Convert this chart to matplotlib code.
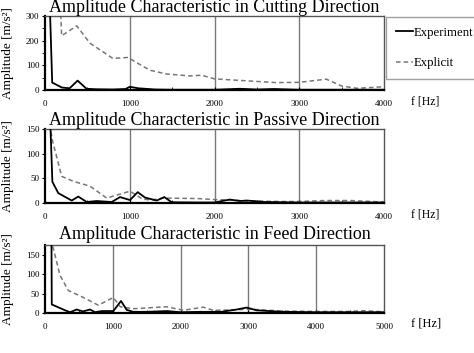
import matplotlib.pyplot as plt
from matplotlib.ticker import MultipleLocator

plt.rcParams['font.family'] = ['Liberation Serif', 'DejaVu Serif']

# cutting direction
cut_exp_f = [50, 85, 200, 290, 385, 490, 600, 800, 950, 1000, 1100, 1300, 1500, 2000, 2300, 2500, 2700, 3000, 3500, 4000]
cut_exp_a = [420, 30, 10, 7, 38, 5, 3, 2, 4, 13, 7, 2, 1, 1, 5, 2, 4, 1, 1, 1]
cut_expl_f = [170, 197, 375, 530, 800, 980, 1060, 1240, 1430, 1710, 1850, 2000, 2340, 2730, 3000, 3320, 3500, 3680, 4000]
cut_expl_a = [420, 220, 260, 190, 128, 132, 115, 80, 65, 57, 60, 45, 38, 30, 31, 44, 16, 7, 13]

# passive direction
pas_exp_f = [55, 87, 157, 315, 393, 492, 610, 787, 885, 1003, 1094, 1180, 1318, 1408, 1495, 1800, 2000, 2180, 2300, 2380, 2600, 3000, 3500, 4000]
pas_exp_a = [200, 43, 20, 5, 13, 2, 4, 2, 12, 6, 22, 11, 5, 12, 1.5, 1, 1, 7, 4, 5, 2, 1, 1, 1]
pas_expl_f = [55, 90, 197, 334, 531, 728, 1003, 1150, 1250, 1400, 1800, 2000, 2200, 2400, 2800, 3000, 3300, 3600, 4000]
pas_expl_a = [160, 125, 54, 44, 34, 10, 24, 8, 6, 10, 9, 7, 6, 4, 3, 3, 5, 5, 2]

# feed direction
feed_exp_f = [95, 100, 295, 370, 467, 560, 664, 738, 840, 1008, 1121, 1205, 1300, 1500, 1800, 2000, 2300, 2600, 2827, 2975, 3120, 3500, 4000, 4500, 5000]
feed_exp_a = [200, 22, 7, 2, 9, 4, 9, 2, 5, 5, 31, 8, 3, 3, 5, 2, 3, 3, 9, 14, 7, 3, 2, 2, 2]
feed_expl_f = [70, 123, 221, 344, 565, 786, 1008, 1110, 1303, 1794, 2040, 2335, 2480, 2800, 3000, 3500, 4000, 4500, 4700, 5000]
feed_expl_a = [190, 166, 97, 58, 40, 20, 40, 16, 11, 16, 7, 15, 7, 8, 10, 5, 4, 4, 6, 3]

W, H = 474, 353
fig = plt.figure(figsize=(W / 100, H / 100), dpi=100)

panels = [
    ('Amplitude Characteristic in Cutting Direction', cut_exp_f, cut_exp_a, cut_expl_f, cut_expl_a,
     4000, 300, 100, [1000, 2000, 3000], (16, 90), 0, 8.5),
    ('Amplitude Characteristic in Passive Direction', pas_exp_f, pas_exp_a, pas_expl_f, pas_expl_a,
     4000, 150, 50, [1000, 2000, 3000], (129, 203), 3, 8.5),
    ('Amplitude Characteristic in Feed Direction', feed_exp_f, feed_exp_a, feed_expl_f, feed_expl_a,
     5000, 175, 50, [1000, 2000, 3000, 4000], (245, 313), 4, 9),
]

for title, ef, ea, xf, xa, xmax, ymax, ystep, vlines, (top, bot), tpad, fsz in panels:
    ax = fig.add_axes([45 / W, 1 - bot / H, 339 / W, (bot - top) / H])
    for v in vlines:
        ax.axvline(v, color='#7a7a7a', lw=1.0, zorder=1)
    l1, = ax.plot(ef, ea, color='black', lw=1.3, label='Experiment', zorder=3)
    l2, = ax.plot(xf, xa, color='#777777', lw=1.1, ls=(0, (3, 2)), label='Explicit', zorder=2)
    ax.set_xlim(0, xmax)
    ax.set_ylim(0, ymax)
    ax.xaxis.set_major_locator(MultipleLocator(1000))
    ax.xaxis.set_minor_locator(MultipleLocator(500))
    ax.yaxis.set_major_locator(MultipleLocator(ystep))
    ax.yaxis.set_minor_locator(MultipleLocator(50))
    ax.tick_params(axis='x', which='both', direction='in', labelsize=6.5, pad=7, length=2.5)
    ax.tick_params(axis='y', which='both', direction='out', labelsize=6.5, pad=1.5, length=2.5)
    for s in ['left', 'bottom']:
        ax.spines[s].set_linewidth(1.6)
        ax.spines[s].set_color('black')
    for s in ['top', 'right']:
        ax.spines[s].set_linewidth(1.0)
        ax.spines[s].set_color('#555555')
    ax.set_title(title, fontsize=13, pad=tpad)
    ax.set_ylabel('Amplitude [m/s²]', fontsize=9.5)
    ax.yaxis.set_label_coords(-0.09, 0.5)
    ax.text(1.08, -0.16, 'f [Hz]', transform=ax.transAxes, fontsize=fsz, ha='left', va='center')

fig.legend(handles=[l1, l2], loc='upper left', bbox_to_anchor=(386 / W, 1 - 17 / H),
           fontsize=9.2, frameon=True, fancybox=False, edgecolor='#888888',
           labelspacing=1.45, borderpad=0.75, handlelength=1.35, handletextpad=0.1,
           borderaxespad=0)

fig.savefig('out.png', dpi=100)
